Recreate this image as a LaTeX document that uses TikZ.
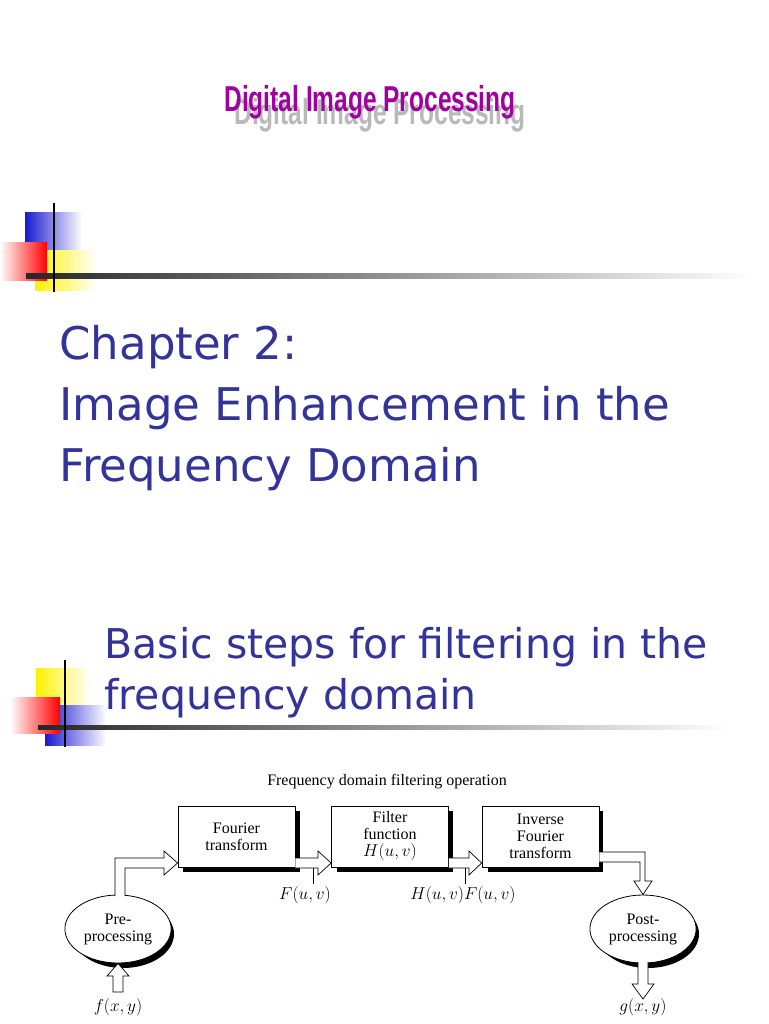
\documentclass[tikz,border=0pt]{standalone}
\usepackage{fontspec}
\setmainfont{Liberation Serif}
\newfontfamily\titlefont{Liberation Sans}
\newfontfamily\headfont{DejaVu Sans}
\usetikzlibrary{shapes.geometric}
\definecolor{headblue}{RGB}{51,51,153}
\definecolor{titlemag}{RGB}{160,0,160}
\begin{document}
\begin{tikzpicture}[x=1pt,y=-1pt,
  box/.style={draw,line width=0.8pt,fill=white,minimum width=117pt,minimum height=61pt,align=center,font=\fontsize{16}{17}\selectfont},
  ell/.style={ellipse,draw,line width=0.8pt,fill=white,minimum width=102pt,minimum height=68pt,align=center,font=\fontsize{16}{17}\selectfont},
  lab/.style={font=\fontsize{16}{17}\selectfont},
  harrow/.style={draw,line width=0.7pt,fill=white},
  head/.style={text=headblue,anchor=west,align=left}]
\useasboundingbox (0,0) rectangle (768,1024);
\fill[white] (0,0) rectangle (768,1024);
% title
\node[text=gray!55] (tsh) at (380,115) {\scalebox{0.68}[1]{\titlefont\bfseries\fontsize{36}{38}\selectfont Digital Image Processing}};
\node[text=titlemag] (title) at (370,102) {\scalebox{0.68}[1]{\titlefont\bfseries\fontsize{36}{38}\selectfont Digital Image Processing}};
% decoration 1
\shade[left color=blue!80!black!90,right color=white] (25,213) rectangle (82,268);
\shade[left color=yellow!90!orange,right color=white] (35,250) rectangle (96,290);
\shade[left color=white,right color=red] (0,242) rectangle (47,280);
\shade[left color=black!85,right color=white] (26,273) rectangle (752,278);
\draw[line width=1.2pt] (54,203) -- (54,292);
% decoration 2
\shade[left color=yellow!90!orange,right color=white] (36,668) rectangle (90,718);
\shade[left color=blue!80!black!90,right color=white] (45,705) rectangle (106,745);
\shade[left color=white,right color=red] (10,697) rectangle (60,733);
\shade[left color=black!85,right color=white] (38,725) rectangle (730,729);
\draw[line width=1.2pt] (65,660) -- (65,747);
% headings
\node[head,font=\headfont\fontsize{45}{61}\selectfont] (chap) at (56,408) {Chapter 2:\\Image Enhancement in the\\Frequency Domain};
\node[head,font=\headfont\fontsize{41}{51}\selectfont] (basic) at (101,673) {Basic steps for filtering in the\\frequency domain};
% diagram
\node[lab] (cap) at (387,782) {Frequency domain filtering operation};
\fill (183,811) rectangle (300,872);
\fill (337,811) rectangle (453,872);
\fill (488,811) rectangle (603,872);
\node[box] (ft) at (236.5,836.5) {Fourier\\transform};
\node[box] (ff) at (390,836.5) {Filter\\function\\$H(u,v)$};
\node[box] (ift) at (540.5,836.5) {Inverse\\Fourier\\transform};
\fill (123,934) ellipse (51pt and 34pt);
\fill (648,934) ellipse (51pt and 34pt);
\node[ell] (pre) at (118,929) {Pre-\\processing};
\node[ell] (post) at (643,929) {Post-\\processing};
\node[lab] (fxy) at (118,1007) {$f(x,y)$};
\node[lab] (gxy) at (643,1007) {$g(x,y)$};
\node[lab] (fuv) at (305,895) {$F(u,v)$};
\node[lab] (hf) at (463,895) {$H(u,v)F(u,v)$};
\draw[line width=0.7pt] (313,884) -- (313,862);
\draw[line width=0.7pt] (465,884) -- (465,862);
% hollow arrows
\draw[harrow] (115,896) -- (115,858) -- (164,858) -- (164,851) -- (ft.west |- 0,863) -- (164,875) -- (164,868) -- (125,868) -- (125,896);
\draw[harrow] (ft.east |- 0,858) -- (318,858) -- (318,851) -- (ff.west |- 0,863) -- (318,875) -- (318,868) -- (ft.east |- 0,868);
\draw[harrow] (ff.east |- 0,858) -- (469,858) -- (469,851) -- (ift.west |- 0,863) -- (469,875) -- (469,868) -- (ff.east |- 0,868);
\draw[harrow] (ift.east |- 0,852) -- (645,852) -- (645,881) -- (652,881) -- (post.north) -- (634,881) -- (640,881) -- (640,862) -- (ift.east |- 0,862);
\draw[harrow] (113,992) -- (113,976) -- (107,976) -- (pre.south) -- (129,976) -- (123,976) -- (123,992) -- cycle;
\draw[harrow] (638,962) -- (638,984) -- (632,984) -- (643,999) -- (654,984) -- (648,984) -- (648,962);
\end{tikzpicture}
\end{document}
